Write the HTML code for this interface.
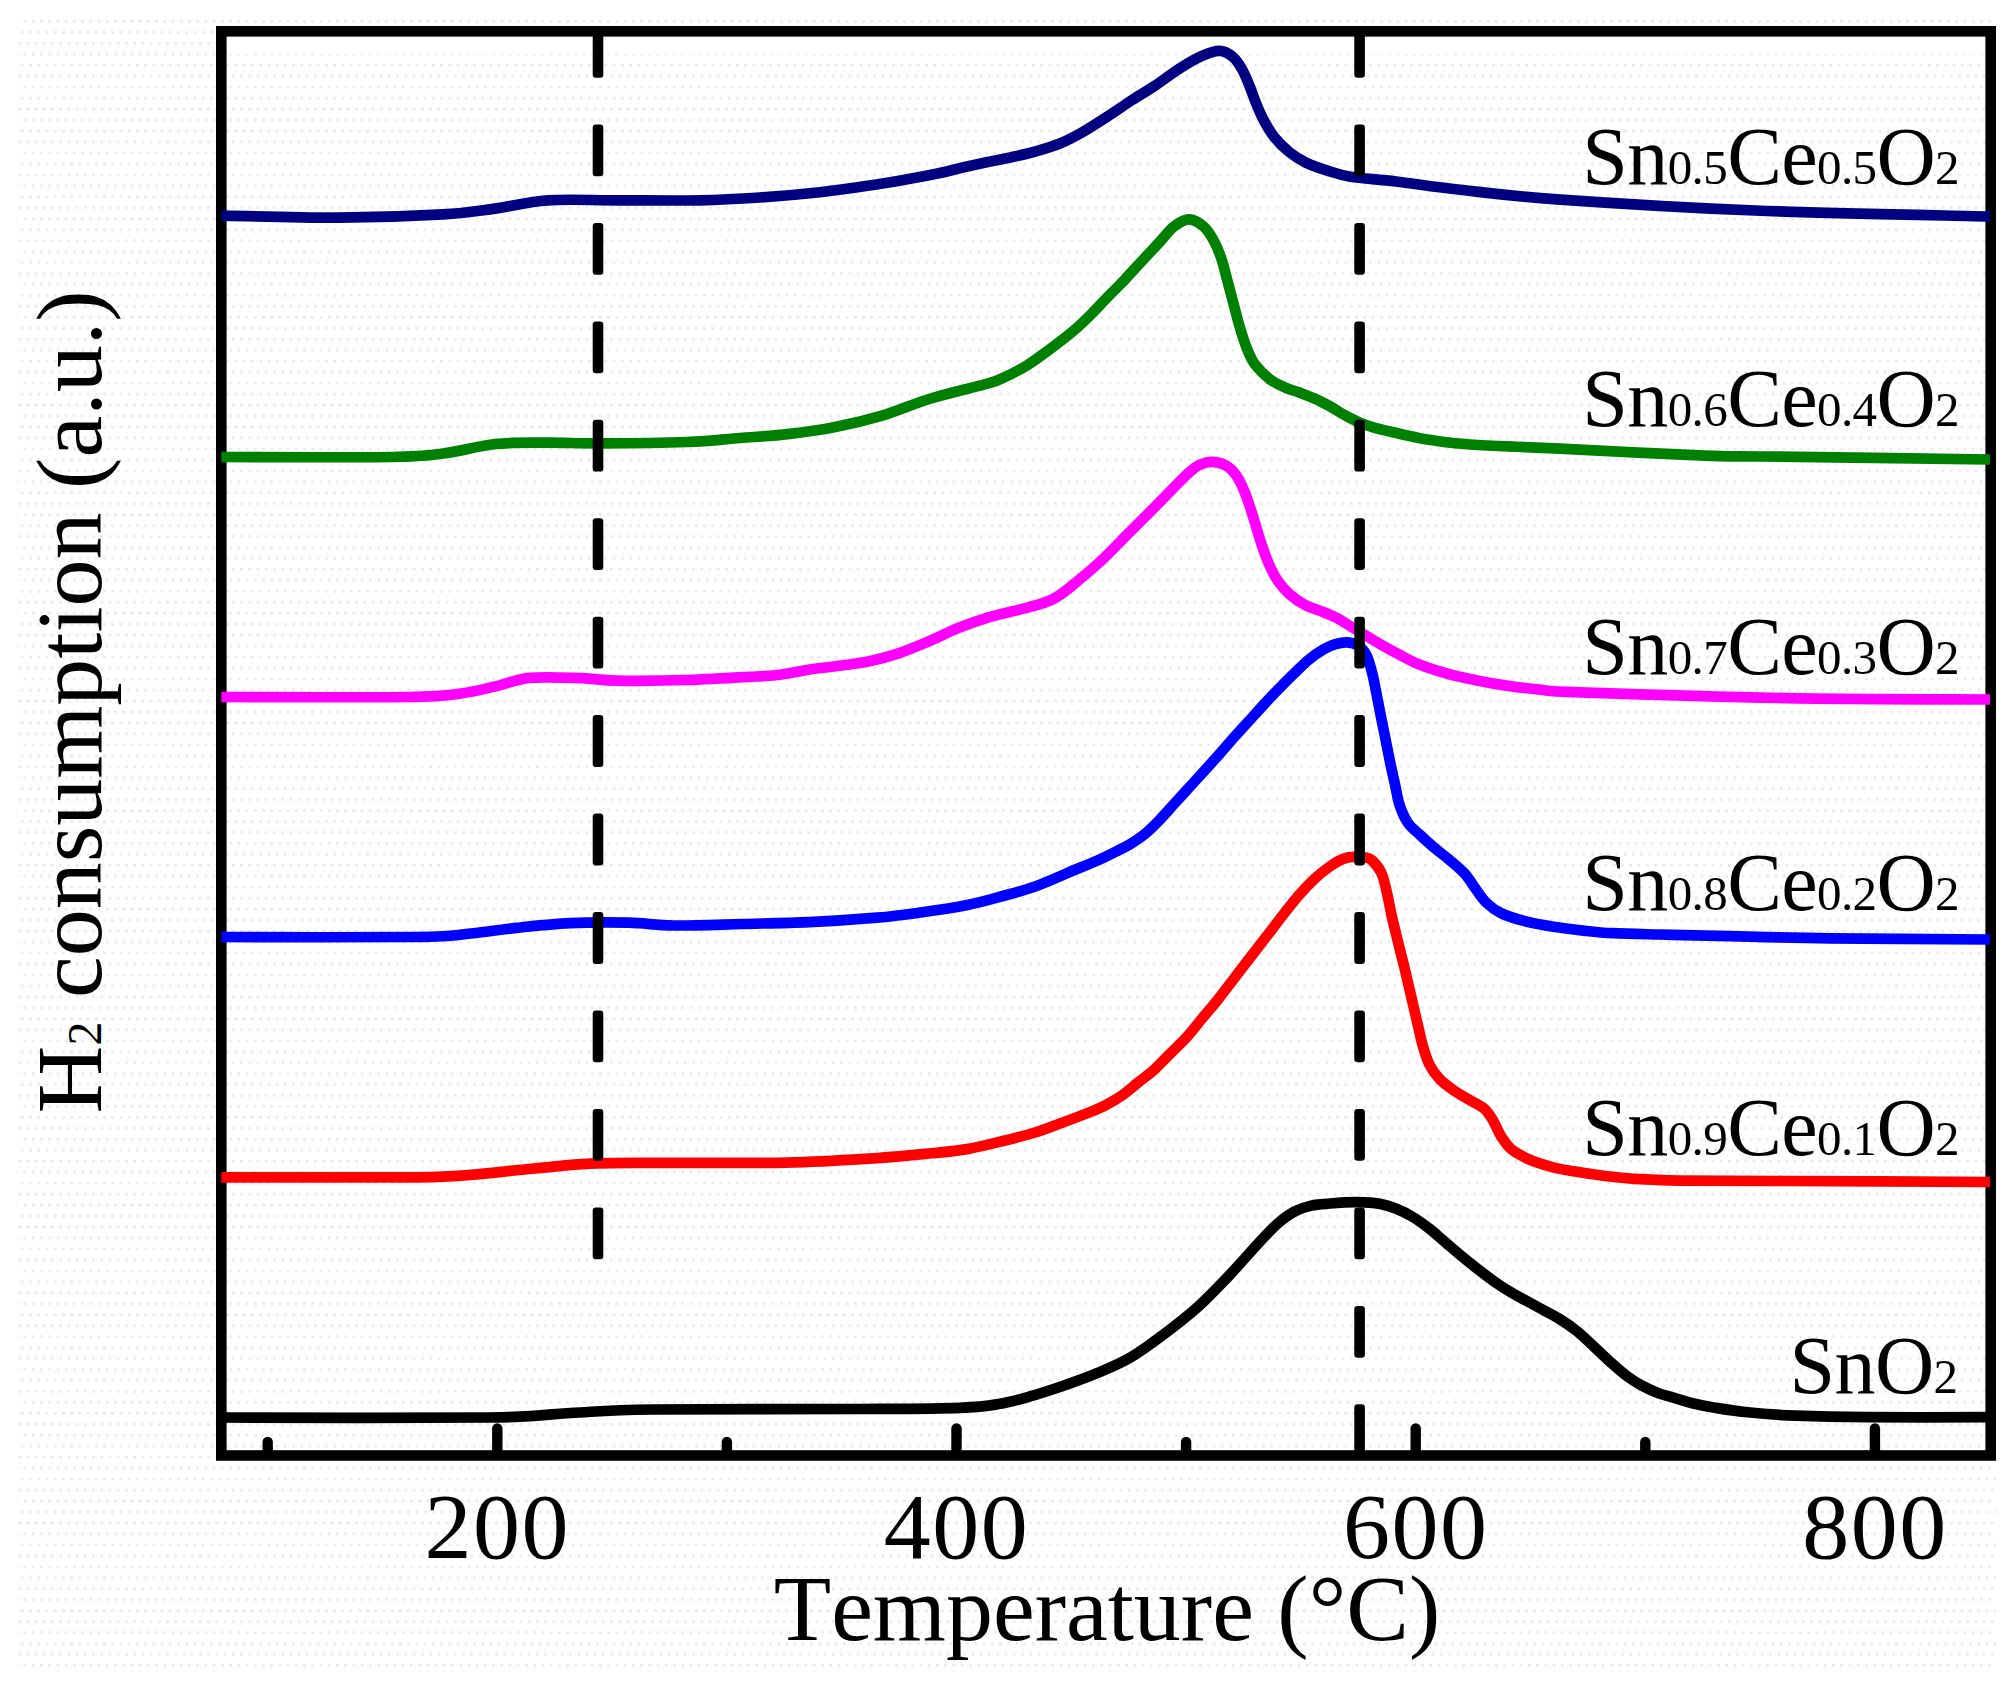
<!DOCTYPE html>
<html lang="en">
<head>
<meta charset="utf-8">
<title>H2-TPR profiles</title>
<style>
html,body{margin:0;padding:0;background:#fff;}
body{width:2014px;height:1684px;overflow:hidden;}
svg{display:block;}
text{font-family:"Liberation Serif","Times New Roman",serif;fill:#000;font-kerning:none;}
</style>
</head>
<body>
<svg width="2014" height="1684" viewBox="0 0 2014 1684">
<defs>
<pattern id="dots" x="300.4" y="63.9" width="8.22" height="32.88" patternUnits="userSpaceOnUse">
<rect x="0" y="0" width="2.74" height="2.74" fill="#ebebeb"/>
<rect x="5.48" y="10.96" width="2.74" height="2.74" fill="#ebebeb"/>
<rect x="2.74" y="21.92" width="2.74" height="2.74" fill="#ebebeb"/>
</pattern>
</defs>
<rect x="0" y="0" width="2014" height="1684" fill="#ffffff"/>
<rect x="17" y="15" width="1979" height="1660" fill="url(#dots)"/>
<rect x="226" y="36" width="1760" height="18.5" fill="#ffffff"/>
<g id="frame" fill="none" stroke="#000" stroke-width="10.6">
<rect x="221.3" y="31.3" width="1769.4" height="1424.2"/>
</g>
<g id="ticks" stroke="#000" stroke-width="10.4" stroke-linecap="round">
<line x1="267.7" y1="1442" x2="267.7" y2="1452"/>
<line x1="497.3" y1="1428.5" x2="497.3" y2="1452"/>
<line x1="726.9" y1="1442" x2="726.9" y2="1452"/>
<line x1="956.5" y1="1428.5" x2="956.5" y2="1452"/>
<line x1="1186.1" y1="1442" x2="1186.1" y2="1452"/>
<line x1="1415.7" y1="1428.5" x2="1415.7" y2="1452"/>
<line x1="1645.3" y1="1442" x2="1645.3" y2="1452"/>
<line x1="1874.9" y1="1428.5" x2="1874.9" y2="1452"/>
</g>
<clipPath id="plotclip"><rect x="221.3" y="0" width="1768.9" height="1684"/></clipPath>
<g id="curves" fill="none" stroke-width="10.7" stroke-linejoin="round" stroke-linecap="butt" clip-path="url(#plotclip)">
<path id="c-black" stroke="#000000" d="M221.0 1417.5 C265.6 1417.5 430.3 1418.2 488.5 1417.5 C546.7 1416.8 542.8 1414.3 570.0 1413.0 C597.2 1411.7 603.7 1410.2 652.0 1409.5 C700.3 1408.8 808.7 1409.3 860.0 1409.0 C911.3 1408.7 936.7 1408.7 960.0 1407.8 C983.3 1406.9 987.9 1405.8 1000.0 1403.8 C1012.1 1401.8 1021.9 1398.7 1032.8 1395.6 C1043.7 1392.5 1054.6 1388.8 1065.5 1385.0 C1076.4 1381.2 1087.4 1377.4 1098.3 1372.7 C1109.2 1368.0 1120.2 1363.5 1131.1 1357.1 C1142.0 1350.7 1153.0 1342.4 1163.9 1334.2 C1174.8 1326.0 1185.7 1317.8 1196.6 1308.0 C1207.5 1298.2 1218.5 1286.7 1229.4 1275.2 C1240.3 1263.7 1254.0 1247.9 1262.2 1239.2 C1270.4 1230.5 1273.1 1227.5 1278.6 1222.8 C1284.1 1218.1 1289.5 1214.2 1295.0 1211.3 C1300.5 1208.4 1305.5 1206.9 1311.3 1205.6 C1317.1 1204.3 1322.4 1204.1 1330.0 1203.5 C1337.6 1202.9 1348.7 1202.1 1357.0 1202.2 C1365.3 1202.3 1373.4 1202.8 1380.0 1203.9 C1386.6 1205.0 1390.9 1206.6 1396.4 1208.8 C1401.9 1211.0 1407.3 1213.7 1412.8 1217.0 C1418.3 1220.3 1423.8 1224.3 1429.2 1228.5 C1434.7 1232.7 1440.0 1237.8 1445.5 1242.4 C1451.0 1247.1 1456.4 1251.9 1461.9 1256.4 C1467.4 1260.9 1472.8 1265.3 1478.3 1269.5 C1483.8 1273.7 1489.2 1278.0 1494.7 1281.8 C1500.2 1285.6 1505.6 1289.1 1511.1 1292.4 C1516.6 1295.7 1522.0 1298.4 1527.5 1301.4 C1533.0 1304.4 1538.5 1307.4 1543.9 1310.4 C1549.4 1313.4 1554.8 1316.0 1560.2 1319.4 C1565.7 1322.8 1571.1 1326.5 1576.6 1330.9 C1582.1 1335.3 1587.5 1340.7 1593.0 1345.7 C1598.5 1350.8 1603.9 1356.3 1609.4 1361.2 C1614.9 1366.1 1620.3 1371.1 1625.8 1375.2 C1631.3 1379.3 1636.7 1382.8 1642.2 1385.8 C1647.7 1388.8 1653.1 1391.2 1658.6 1393.2 C1664.0 1395.2 1669.5 1396.5 1674.9 1398.1 C1680.4 1399.7 1684.8 1401.4 1691.3 1403.0 C1697.8 1404.6 1704.2 1406.0 1713.6 1407.5 C1723.0 1409.0 1734.0 1410.9 1747.8 1412.3 C1761.6 1413.7 1776.2 1414.9 1796.2 1415.7 C1816.2 1416.5 1835.2 1417.0 1867.5 1417.2 C1899.8 1417.5 1969.6 1417.2 1990.0 1417.2"/>
<path id="c-red" stroke="#ff0000" d="M221.0 1177.3 C253.6 1177.3 375.0 1177.7 416.6 1177.3 C458.2 1176.9 454.2 1176.0 470.8 1174.8 C487.4 1173.6 501.0 1171.8 516.0 1170.3 C531.0 1168.8 547.5 1167.0 561.0 1165.8 C574.5 1164.6 582.2 1163.8 597.2 1163.3 C612.2 1162.8 619.7 1162.9 651.3 1162.8 C682.9 1162.7 749.1 1163.4 786.7 1162.6 C824.3 1161.8 852.9 1159.6 877.0 1158.1 C901.1 1156.5 916.5 1154.8 931.5 1153.3 C946.5 1151.8 955.3 1151.1 967.2 1149.1 C979.1 1147.0 991.7 1143.8 1003.0 1141.0 C1014.3 1138.2 1025.5 1135.4 1035.0 1132.5 C1044.5 1129.6 1050.8 1126.9 1060.0 1123.5 C1069.2 1120.1 1082.3 1115.2 1090.0 1112.1 C1097.7 1109.0 1100.7 1107.7 1106.0 1104.9 C1111.3 1102.1 1116.8 1099.0 1122.1 1095.3 C1127.4 1091.6 1132.8 1086.8 1138.1 1082.5 C1143.4 1078.2 1148.8 1074.5 1154.1 1069.7 C1159.4 1064.9 1164.8 1058.9 1170.2 1053.6 C1175.6 1048.2 1180.9 1043.5 1186.2 1037.6 C1191.5 1031.7 1196.9 1024.8 1202.2 1018.4 C1207.5 1012.0 1213.0 1005.8 1218.3 999.1 C1223.6 992.4 1229.0 985.2 1234.3 978.3 C1239.6 971.3 1244.9 964.3 1250.3 957.4 C1255.7 950.5 1261.1 943.5 1266.4 936.6 C1271.8 929.7 1277.1 922.5 1282.4 915.7 C1287.7 908.9 1293.1 901.8 1298.4 895.7 C1303.8 889.6 1309.2 883.9 1314.5 878.9 C1319.8 873.9 1325.7 869.4 1330.5 866.0 C1335.3 862.6 1339.5 860.3 1343.3 858.8 C1347.0 857.3 1349.5 857.0 1353.0 856.8 C1356.5 856.5 1360.8 856.7 1364.0 857.3 C1367.2 857.9 1369.2 857.7 1372.2 860.5 C1375.2 863.3 1379.3 868.2 1381.8 874.0 C1384.3 879.8 1385.8 888.2 1387.4 895.0 C1389.0 901.8 1390.1 908.7 1391.5 915.0 C1392.9 921.3 1394.3 926.8 1395.8 933.0 C1397.3 939.2 1398.9 945.5 1400.5 952.0 C1402.1 958.5 1403.6 964.0 1405.5 972.0 C1407.4 980.0 1410.0 991.6 1412.0 1000.0 C1414.0 1008.4 1415.5 1014.8 1417.2 1022.3 C1419.0 1029.8 1420.5 1037.7 1422.5 1044.7 C1424.5 1051.7 1426.4 1058.4 1429.2 1064.1 C1432.0 1069.8 1435.4 1074.5 1439.6 1079.0 C1443.8 1083.5 1449.5 1087.4 1454.5 1090.9 C1459.5 1094.4 1464.4 1096.8 1469.4 1099.8 C1474.4 1102.8 1480.3 1105.2 1484.3 1108.7 C1488.3 1112.2 1490.5 1116.2 1493.2 1120.7 C1495.9 1125.2 1497.7 1130.9 1500.7 1135.6 C1503.7 1140.3 1506.4 1145.0 1511.1 1149.0 C1515.8 1153.0 1522.3 1156.4 1529.0 1159.4 C1535.7 1162.4 1543.8 1164.8 1551.3 1166.8 C1558.8 1168.8 1565.0 1169.8 1573.7 1171.3 C1582.4 1172.8 1593.5 1174.5 1603.4 1175.8 C1613.3 1177.0 1620.4 1178.0 1633.2 1178.8 C1646.0 1179.6 1654.6 1180.2 1680.0 1180.6 C1705.4 1181.0 1733.7 1180.8 1785.4 1181.0 C1837.1 1181.2 1955.9 1181.8 1990.0 1182.0"/>
<path id="c-blue" stroke="#0000ff" d="M221.0 937.0 C253.6 937.0 375.0 937.6 416.6 937.0 C458.2 936.4 454.2 935.0 470.8 933.5 C487.4 932.0 499.5 929.6 516.0 927.9 C532.5 926.2 551.2 924.1 570.0 923.2 C588.8 922.3 611.5 922.3 628.8 922.7 C646.1 923.1 655.2 925.3 674.0 925.5 C692.8 925.7 719.1 924.6 741.6 924.0 C764.1 923.4 786.7 923.1 809.3 922.1 C831.9 921.1 858.2 919.3 877.0 917.7 C895.8 916.1 907.0 914.4 922.0 912.3 C937.0 910.2 953.8 907.7 967.3 905.0 C980.8 902.3 991.7 899.1 1003.0 896.0 C1014.3 892.9 1023.1 890.8 1035.0 886.5 C1046.9 882.2 1063.7 874.5 1074.5 870.0 C1085.3 865.5 1093.1 862.4 1100.0 859.3 C1106.9 856.2 1111.0 854.0 1116.0 851.5 C1121.0 849.0 1125.0 847.2 1129.8 844.3 C1134.6 841.4 1139.7 838.2 1144.7 834.1 C1149.7 830.0 1154.6 825.0 1159.6 819.9 C1164.6 814.8 1169.5 809.0 1174.5 803.5 C1179.5 798.0 1184.4 792.7 1189.4 787.2 C1194.4 781.8 1199.3 776.3 1204.3 770.8 C1209.3 765.3 1214.2 760.0 1219.2 754.4 C1224.2 748.8 1229.1 742.9 1234.1 737.3 C1239.1 731.7 1244.0 726.4 1249.0 720.9 C1254.0 715.4 1258.9 709.9 1263.9 704.5 C1268.9 699.1 1273.8 693.9 1278.8 688.8 C1283.8 683.7 1288.7 678.7 1293.7 673.9 C1298.7 669.1 1303.6 663.9 1308.6 659.8 C1313.6 655.7 1319.0 652.0 1323.5 649.4 C1328.0 646.8 1331.4 645.4 1335.4 644.2 C1339.4 643.0 1343.5 642.2 1347.3 642.4 C1351.1 642.6 1354.8 643.4 1358.0 645.5 C1361.2 647.6 1364.2 650.4 1366.6 655.3 C1369.0 660.2 1370.8 667.8 1372.6 674.7 C1374.3 681.7 1375.6 689.5 1377.1 697.0 C1378.6 704.5 1380.0 711.9 1381.5 719.4 C1383.0 726.9 1384.5 734.2 1386.0 741.7 C1387.5 749.2 1389.0 757.0 1390.5 764.1 C1392.0 771.2 1393.5 777.7 1395.0 784.5 C1396.5 791.3 1397.4 798.4 1399.5 804.7 C1401.6 811.1 1404.4 817.6 1407.7 822.6 C1411.0 827.6 1415.1 830.3 1419.6 834.5 C1424.1 838.7 1429.5 843.7 1434.5 847.9 C1439.5 852.1 1444.4 855.6 1449.4 859.8 C1454.4 864.0 1459.8 868.2 1464.3 873.2 C1468.8 878.2 1472.5 884.6 1476.2 889.6 C1479.9 894.6 1482.4 899.0 1486.6 903.0 C1490.8 907.0 1495.3 910.4 1501.5 913.4 C1507.7 916.4 1515.2 918.7 1523.9 920.9 C1532.6 923.1 1543.8 925.2 1553.7 926.8 C1563.6 928.4 1573.5 929.5 1583.4 930.6 C1593.3 931.7 1600.4 932.6 1613.2 933.2 C1626.0 933.9 1642.6 934.1 1660.0 934.5 C1677.4 934.9 1689.5 935.2 1717.8 935.8 C1746.1 936.4 1784.6 937.7 1830.0 938.3 C1875.4 938.9 1963.3 939.3 1990.0 939.5"/>
<path id="c-magenta" stroke="#ff00ff" d="M221.0 697.0 C252.2 697.0 368.6 697.6 408.5 697.0 C448.4 696.4 446.2 695.3 460.7 693.5 C475.2 691.7 483.9 689.0 495.5 686.4 C507.1 683.8 515.6 679.3 530.0 677.9 C544.4 676.5 567.5 677.8 582.0 678.2 C596.5 678.7 599.6 680.3 617.0 680.6 C634.4 680.9 663.4 680.7 686.6 680.0 C709.8 679.3 740.4 677.4 756.0 676.5 C771.6 675.6 771.0 675.9 780.0 674.7 C789.0 673.5 799.9 671.0 809.8 669.5 C819.7 668.0 829.7 667.2 839.6 665.8 C849.5 664.4 859.5 663.4 869.4 661.3 C879.3 659.2 889.3 656.5 899.2 653.1 C909.1 649.8 919.1 645.4 929.0 641.2 C938.9 637.0 948.9 631.8 958.8 627.8 C968.7 623.8 978.6 620.4 988.5 617.4 C998.4 614.4 1009.7 612.1 1018.3 609.9 C1026.9 607.7 1033.9 606.2 1040.0 604.2 C1046.1 602.2 1050.0 600.8 1055.0 598.0 C1060.0 595.2 1062.4 593.5 1069.8 587.5 C1077.2 581.5 1089.7 571.4 1099.6 562.2 C1109.5 553.0 1119.5 542.3 1129.4 532.4 C1139.3 522.5 1149.3 512.6 1159.2 502.6 C1169.1 492.6 1182.0 478.9 1189.0 472.5 C1196.0 466.1 1196.9 466.1 1200.9 464.3 C1204.9 462.5 1208.6 461.7 1212.8 461.9 C1217.0 462.1 1222.2 463.3 1226.2 465.6 C1230.2 467.9 1233.6 471.6 1236.6 475.8 C1239.6 480.0 1241.9 485.4 1244.1 490.6 C1246.3 495.8 1248.0 501.0 1250.0 507.0 C1252.0 513.0 1254.0 519.9 1256.0 526.4 C1258.0 532.9 1259.8 539.3 1262.0 545.8 C1264.2 552.2 1266.7 559.1 1269.4 565.1 C1272.1 571.1 1274.8 576.5 1278.3 581.5 C1281.8 586.5 1285.8 591.0 1290.3 594.9 C1294.8 598.8 1299.9 602.2 1305.2 605.0 C1310.5 607.8 1316.6 609.2 1321.9 611.4 C1327.2 613.6 1331.8 615.5 1336.8 618.1 C1341.8 620.7 1346.7 624.0 1351.7 627.0 C1356.7 630.0 1361.6 633.0 1366.6 636.0 C1371.6 639.0 1376.5 642.0 1381.5 644.9 C1386.5 647.8 1390.2 649.9 1396.4 653.1 C1402.6 656.3 1410.1 660.8 1418.8 664.3 C1427.5 667.8 1438.7 671.3 1448.6 674.0 C1458.5 676.7 1468.4 678.7 1478.3 680.7 C1488.2 682.7 1497.8 684.4 1508.1 685.9 C1518.4 687.4 1528.0 688.5 1540.0 689.6 C1552.0 690.7 1539.2 690.9 1580.0 692.3 C1620.8 693.7 1716.7 696.9 1785.0 698.1 C1853.3 699.3 1955.8 699.3 1990.0 699.5"/>
<path id="c-green" stroke="#008000" d="M221.0 457.0 C249.3 457.0 354.0 457.6 391.0 457.0 C428.0 456.4 425.6 455.7 443.0 453.5 C460.4 451.3 478.1 445.8 495.5 444.0 C512.9 442.2 530.2 442.8 547.6 442.7 C565.0 442.6 576.5 443.5 599.7 443.4 C622.9 443.3 663.2 442.9 686.6 442.0 C710.0 441.1 723.1 439.3 740.0 438.0 C756.9 436.7 771.8 436.0 787.7 434.1 C803.6 432.2 819.4 430.0 835.3 426.9 C851.2 423.8 867.1 420.0 883.0 415.3 C898.9 410.6 914.5 403.4 930.7 398.5 C946.9 393.6 969.1 388.5 980.0 385.6 C990.9 382.7 990.6 382.9 995.9 380.9 C1001.2 378.9 1006.5 376.3 1011.8 373.7 C1017.1 371.1 1022.4 368.3 1027.7 365.0 C1033.0 361.7 1038.2 357.7 1043.5 353.9 C1048.8 350.1 1054.1 346.1 1059.4 342.0 C1064.7 337.9 1070.0 333.8 1075.3 329.2 C1080.6 324.6 1085.9 319.5 1091.2 314.2 C1096.5 308.9 1101.8 302.9 1107.1 297.5 C1112.4 292.1 1119.3 285.4 1123.0 281.6 C1126.7 277.8 1123.4 281.0 1129.4 274.5 C1135.4 268.0 1151.8 250.5 1159.2 242.5 C1166.6 234.5 1169.0 230.3 1174.0 226.5 C1179.0 222.7 1184.0 219.3 1189.0 219.4 C1194.0 219.5 1199.7 223.1 1203.9 226.8 C1208.1 230.5 1211.3 236.2 1214.3 241.7 C1217.3 247.2 1219.5 252.9 1221.7 259.6 C1223.9 266.3 1225.7 274.4 1227.7 281.9 C1229.7 289.3 1231.7 296.9 1233.7 304.3 C1235.7 311.8 1237.4 319.2 1239.6 326.6 C1241.8 334.1 1244.5 342.7 1247.1 349.0 C1249.6 355.3 1251.1 359.3 1254.9 364.3 C1258.7 369.3 1264.8 375.4 1269.8 379.2 C1274.8 383.0 1279.7 385.2 1284.7 387.4 C1289.7 389.6 1294.6 390.8 1299.6 392.6 C1304.6 394.5 1309.5 396.3 1314.5 398.5 C1319.5 400.7 1324.4 403.3 1329.4 406.0 C1334.4 408.7 1339.3 412.2 1344.3 414.9 C1349.3 417.6 1354.2 420.3 1359.2 422.4 C1364.2 424.5 1369.0 426.1 1374.0 427.6 C1379.0 429.1 1381.5 429.6 1389.0 431.3 C1396.5 433.0 1408.9 436.1 1418.8 438.0 C1428.7 439.9 1438.7 441.3 1448.6 442.5 C1458.5 443.7 1468.4 444.4 1478.3 445.0 C1488.2 445.6 1494.5 445.8 1508.1 446.4 C1521.7 447.0 1527.2 447.1 1560.0 448.7 C1592.8 450.2 1671.2 454.4 1705.0 455.7 C1738.8 457.0 1715.5 455.9 1763.0 456.5 C1810.5 457.1 1952.2 459.0 1990.0 459.5"/>
<path id="c-navy" stroke="#000080" d="M221.0 215.6 C240.7 215.9 302.0 217.9 339.0 217.7 C376.0 217.5 417.0 215.9 443.0 214.4 C469.0 212.9 477.6 210.9 495.0 208.6 C512.4 206.2 527.3 201.7 547.6 200.3 C567.9 198.9 591.6 200.3 617.0 200.3 C642.4 200.3 676.2 200.8 700.0 200.3 C723.8 199.8 740.1 198.8 760.0 197.5 C779.9 196.2 799.7 194.4 819.6 192.2 C839.5 189.9 864.1 186.2 879.2 184.0 C894.3 181.8 899.9 180.6 910.0 178.8 C920.1 177.0 931.0 174.9 940.0 173.0 C949.0 171.1 955.8 169.1 963.8 167.3 C971.8 165.5 979.8 163.7 987.7 162.0 C995.7 160.3 1003.6 158.9 1011.5 157.2 C1019.4 155.4 1027.3 153.7 1035.3 151.5 C1043.2 149.3 1051.2 147.1 1059.2 143.8 C1067.2 140.5 1075.1 136.3 1083.0 131.8 C1090.9 127.3 1098.8 122.1 1106.8 116.9 C1114.8 111.8 1122.8 106.1 1130.7 100.9 C1138.7 95.8 1146.4 91.4 1154.5 86.0 C1162.6 80.6 1171.4 73.7 1179.2 68.7 C1187.0 63.7 1194.8 59.1 1201.5 56.1 C1208.2 53.1 1214.2 50.8 1219.4 50.9 C1224.6 51.0 1229.1 53.8 1232.8 56.8 C1236.5 59.8 1239.0 64.0 1241.7 68.7 C1244.4 73.4 1246.7 79.1 1249.2 85.1 C1251.7 91.1 1254.1 98.5 1256.6 104.5 C1259.1 110.5 1261.1 115.4 1264.1 120.9 C1267.1 126.4 1270.3 132.1 1274.5 137.3 C1278.7 142.5 1284.2 148.0 1289.4 152.2 C1294.6 156.4 1299.3 159.5 1305.8 162.6 C1312.2 165.7 1320.6 168.5 1328.1 170.8 C1335.5 173.2 1339.2 174.9 1350.5 176.7 C1361.8 178.5 1377.8 179.3 1396.0 181.5 C1414.2 183.7 1433.2 186.8 1460.0 189.8 C1486.8 192.8 1507.8 195.9 1557.0 199.3 C1606.2 202.8 1682.8 207.6 1755.0 210.5 C1827.2 213.4 1950.8 215.5 1990.0 216.5"/>
</g>
<g id="guides">
<rect x="592.7" y="30.0" width="10.6" height="47.8" rx="3.2" fill="#000"/>
<rect x="592.7" y="124.5" width="10.6" height="51.8" rx="3.2" fill="#000"/>
<rect x="592.7" y="222.9" width="10.6" height="51.8" rx="3.2" fill="#000"/>
<rect x="592.7" y="321.4" width="10.6" height="51.8" rx="3.2" fill="#000"/>
<rect x="592.7" y="419.8" width="10.6" height="51.8" rx="3.2" fill="#000"/>
<rect x="592.7" y="518.2" width="10.6" height="51.8" rx="3.2" fill="#000"/>
<rect x="592.7" y="616.7" width="10.6" height="51.8" rx="3.2" fill="#000"/>
<rect x="592.7" y="715.1" width="10.6" height="51.8" rx="3.2" fill="#000"/>
<rect x="592.7" y="813.6" width="10.6" height="51.8" rx="3.2" fill="#000"/>
<rect x="592.7" y="912.1" width="10.6" height="51.8" rx="3.2" fill="#000"/>
<rect x="592.7" y="1010.5" width="10.6" height="51.8" rx="3.2" fill="#000"/>
<rect x="592.7" y="1109.0" width="10.6" height="51.8" rx="3.2" fill="#000"/>
<rect x="592.7" y="1207.4" width="10.6" height="51.8" rx="3.2" fill="#000"/>
<rect x="1354.3" y="30.0" width="10.6" height="47.8" rx="3.2" fill="#000"/>
<rect x="1354.3" y="124.5" width="10.6" height="51.8" rx="3.2" fill="#000"/>
<rect x="1354.3" y="222.9" width="10.6" height="51.8" rx="3.2" fill="#000"/>
<rect x="1354.3" y="321.4" width="10.6" height="51.8" rx="3.2" fill="#000"/>
<rect x="1354.3" y="419.8" width="10.6" height="51.8" rx="3.2" fill="#000"/>
<rect x="1354.3" y="518.2" width="10.6" height="51.8" rx="3.2" fill="#000"/>
<rect x="1354.3" y="616.7" width="10.6" height="51.8" rx="3.2" fill="#000"/>
<rect x="1354.3" y="715.1" width="10.6" height="51.8" rx="3.2" fill="#000"/>
<rect x="1354.3" y="813.6" width="10.6" height="51.8" rx="3.2" fill="#000"/>
<rect x="1354.3" y="912.1" width="10.6" height="51.8" rx="3.2" fill="#000"/>
<rect x="1354.3" y="1010.5" width="10.6" height="51.8" rx="3.2" fill="#000"/>
<rect x="1354.3" y="1109.0" width="10.6" height="51.8" rx="3.2" fill="#000"/>
<rect x="1354.3" y="1207.4" width="10.6" height="51.8" rx="3.2" fill="#000"/>
<rect x="1354.3" y="1305.9" width="10.6" height="51.8" rx="3.2" fill="#000"/>
<rect x="1354.3" y="1404.3" width="10.6" height="51.7" rx="3.2" fill="#000"/>
</g>
<g id="labels">
<text x="1959" y="184.0" text-anchor="end" font-size="82" letter-spacing="-0.6">Sn<tspan font-size="49">0.5</tspan>Ce<tspan font-size="49">0.5</tspan>O<tspan font-size="49">2</tspan></text>
<text x="1959" y="426.0" text-anchor="end" font-size="82" letter-spacing="-0.6">Sn<tspan font-size="49">0.6</tspan>Ce<tspan font-size="49">0.4</tspan>O<tspan font-size="49">2</tspan></text>
<text x="1959" y="674.0" text-anchor="end" font-size="82" letter-spacing="-0.6">Sn<tspan font-size="49">0.7</tspan>Ce<tspan font-size="49">0.3</tspan>O<tspan font-size="49">2</tspan></text>
<text x="1959" y="909.5" text-anchor="end" font-size="82" letter-spacing="-0.6">Sn<tspan font-size="49">0.8</tspan>Ce<tspan font-size="49">0.2</tspan>O<tspan font-size="49">2</tspan></text>
<text x="1959" y="1155.0" text-anchor="end" font-size="82" letter-spacing="-0.6">Sn<tspan font-size="49">0.9</tspan>Ce<tspan font-size="49">0.1</tspan>O<tspan font-size="49">2</tspan></text>
<text x="1957.5" y="1393.0" text-anchor="end" font-size="82" letter-spacing="-0.6">Sn<tspan>O</tspan><tspan font-size="49">2</tspan></text>
</g>
<g id="ticklabels" font-size="94" text-anchor="middle" letter-spacing="1.5">
<text x="497.3" y="1557.5">200</text>
<text x="956.5" y="1557.5">400</text>
<text x="1415.7" y="1557.5">600</text>
<text x="1874.9" y="1557.5">800</text>
</g>
<text id="xlabel" x="1107" y="1640" font-size="94" text-anchor="middle">Temperature (°C)</text>
<text id="ylabel" transform="translate(101 702) rotate(-90)" font-size="94" text-anchor="middle">H<tspan font-size="48">2</tspan> consumption (a.u.)</text>
</svg>
</body>
</html>
